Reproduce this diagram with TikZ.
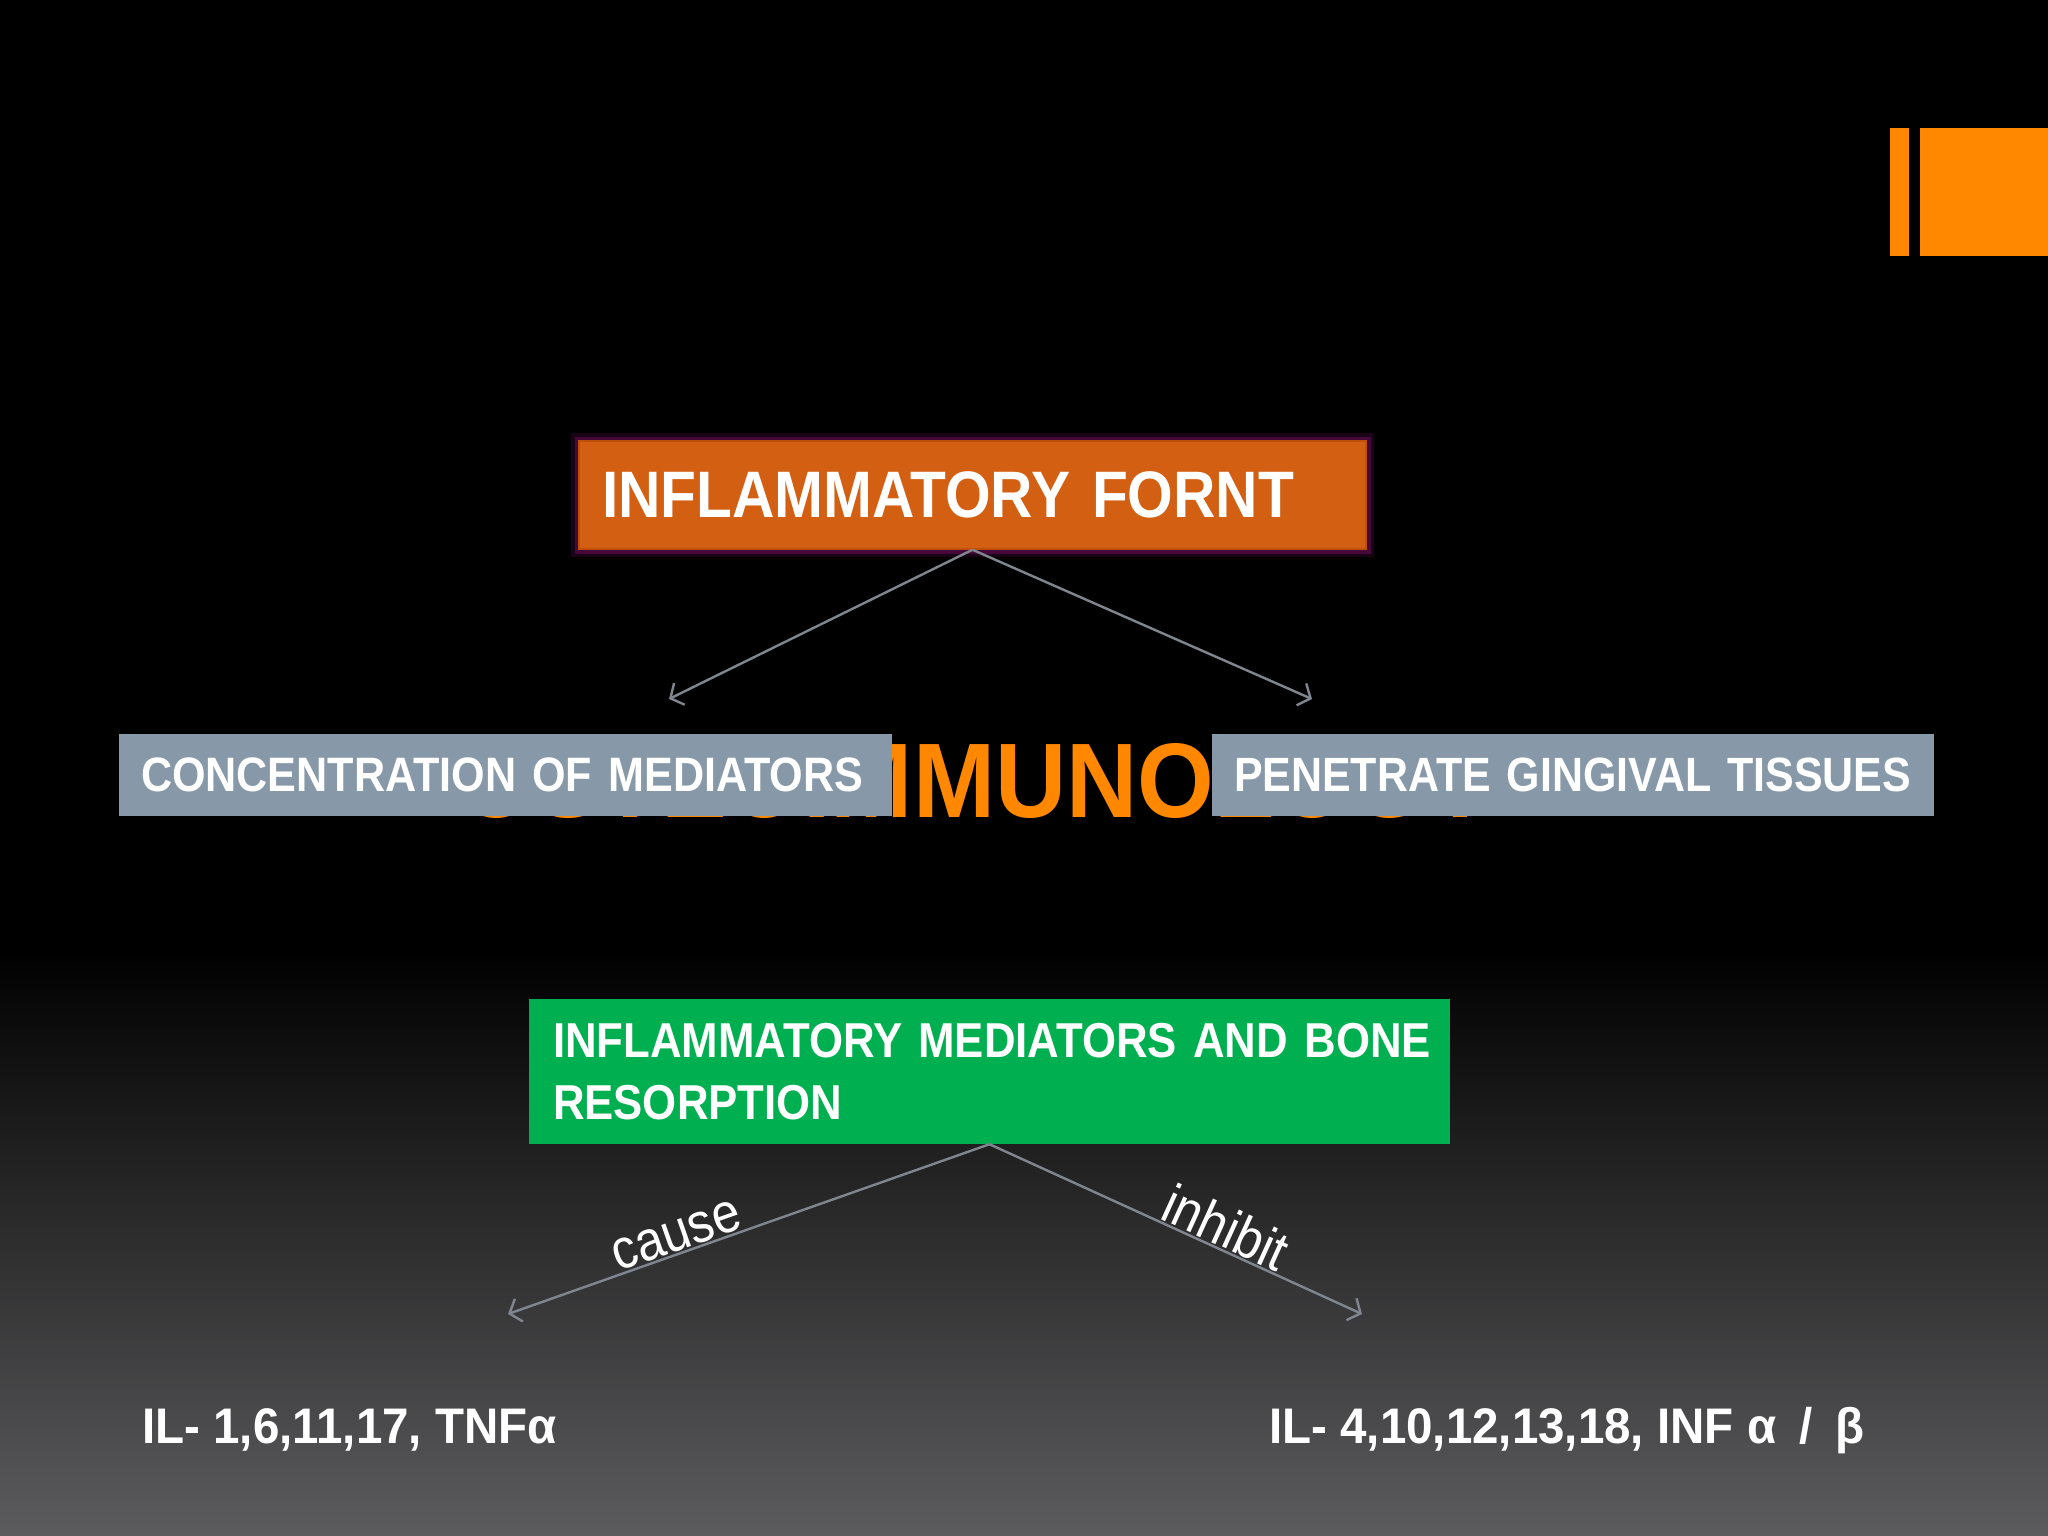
\documentclass[tikz,border=0pt]{standalone}
\usepackage{fontspec}
\setmainfont{Liberation Sans}[FakeStretch=0.893]
\newfontfamily\titlefont{Liberation Sans}[FakeStretch=0.93]
\newfontfamily\footfont{Liberation Sans}[FakeStretch=0.95]
\usetikzlibrary{arrows.meta}
\definecolor{orbox}{RGB}{211,96,18}
\definecolor{glowc}{RGB}{80,10,66}
\definecolor{tabc}{RGB}{255,136,0}
\definecolor{graybox}{RGB}{135,153,168}
\definecolor{greenbox}{RGB}{0,176,80}
\definecolor{connc}{RGB}{128,134,144}
\definecolor{bgbot}{RGB}{92,92,94}
\tikzset{
  conn/.style={draw=connc, line width=2.4pt, -{Straight Barb[length=10pt,width=24pt,line width=2.4pt]}},
  boxtext/.style={text=white, align=left, inner ysep=0pt, anchor=center},
  lbl/.style={text=white, font=\fontsize{56}{60}\selectfont, inner sep=1pt},
  ftext/.style={text=white, font=\footfont\bfseries\fontsize{50}{56}\selectfont, anchor=base west, inner sep=0pt}
}
\begin{document}
\begin{tikzpicture}[x=1pt,y=-1pt]
\useasboundingbox (0,0) rectangle (2048,1536);
% background
\fill[black] (0,0) rectangle (2048,952);
\shade[top color=black, bottom color=bgbot] (0,950) rectangle (2048,1536);
% orange tabs
\fill[tabc] (1890,128) rectangle (1909,256);
\fill[tabc] (1920,128) rectangle (2048,256);
% hidden title
\node[text=tabc, font=\titlefont\bfseries\fontsize{106}{110}\selectfont, inner sep=0pt] (title) at (976,781) {OSTEOIMMUNOLOGY};
% top box
\node[boxtext, fill=orbox, draw={rgb,255:red,190;green,80;blue,10}, line width=1.5pt,
      preaction={draw=glowc, line width=16pt, opacity=0.35},
      preaction={draw=glowc, line width=9pt, opacity=0.8},
      minimum height=108pt, text width=741pt, inner xsep=23pt,
      font=\bfseries\fontsize{65.7}{70}\selectfont] (front) at (972.5,495) {\mbox{INFLAMMATORY FORNT}};
% gray boxes
\node[boxtext, fill=graybox, minimum height=82pt, text width=729pt, inner xsep=22pt,
      font=\bfseries\fontsize{48.3}{52}\selectfont] (conc) at (505.5,775) {\mbox{CONCENTRATION OF MEDIATORS}};
\node[boxtext, fill=graybox, minimum height=82pt, text width=678pt, inner xsep=22pt,
      font=\bfseries\fontsize{48.1}{52}\selectfont] (pene) at (1573,775) {\mbox{PENETRATE GINGIVAL TISSUES}};
% green box
\node[boxtext, fill=greenbox, minimum height=145pt, text width=873pt, inner xsep=24pt,
      font=\bfseries\fontsize{49}{62}\selectfont] (green) at (989.5,1071.5) {\mbox{INFLAMMATORY MEDIATORS AND BONE}\\\mbox{RESORPTION}};
% connector end points
\coordinate (tl) at (669,699);
\coordinate (tr) at (1312,699);
\coordinate (bl) at (508,1314);
\coordinate (br) at (1362,1314);
\draw[conn] (front.south) -- (tl);
\draw[conn] (front.south) -- (tr);
\draw[conn] (green.south) -- node[lbl, sloped, above, pos=0.637] {cause} (bl);
\draw[conn] (green.south) -- node[lbl, sloped, above, pos=0.61] {inhibit} (br);
% bottom texts
\node[ftext] (il1) at (142,1443) {IL- 1,6,11,17, TNFα};
\node[ftext] (il2) at (1269,1443) {IL- 4,10,12,13,18, INF α\hspace{10pt} /\hspace{10pt} β};
\end{tikzpicture}
\end{document}
